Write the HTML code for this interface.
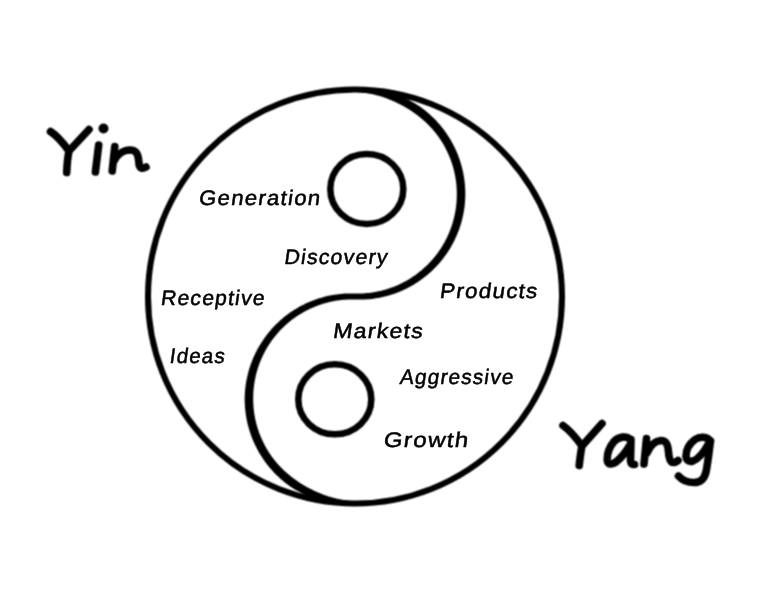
<!DOCTYPE html>
<html><head><meta charset="utf-8">
<style>
html,body{margin:0;padding:0;background:#fff;width:777px;height:600px;overflow:hidden}
svg{display:block}
#w{will-change:transform;width:777px;height:600px}
text{font-family:"Liberation Sans",sans-serif;font-style:normal;font-size:21px;fill:#000;letter-spacing:1.2px;stroke:#000;stroke-width:0.5px}
</style></head><body>
<div id="w"><svg width="777" height="600" viewBox="0 0 777 600">
<defs><filter id="bl" x="0" y="0" width="777" height="600" filterUnits="userSpaceOnUse"><feConvolveMatrix order="3" kernelMatrix="1 2 1 2 4 2 1 2 1" divisor="16" edgeMode="duplicate"/></filter></defs>
<rect width="777" height="600" fill="#fff"/>
<g filter="url(#bl)">
<circle cx="355" cy="296.5" r="207" fill="none" stroke="#000" stroke-width="6"/>
<path d="M362.03,90.50 L364.07,90.43 L366.12,90.40 L368.17,90.41 L370.21,90.47 L372.27,90.56 L374.32,90.70 L376.37,90.88 L378.42,91.11 L380.46,91.37 L382.51,91.69 L384.55,92.04 L386.58,92.44 L388.60,92.89 L390.62,93.38 L392.63,93.92 L394.63,94.50 L396.61,95.12 L398.59,95.80 L400.55,96.51 L402.49,97.27 L404.42,98.08 L406.33,98.93 L408.22,99.82 L410.09,100.76 L411.94,101.74 L413.77,102.76 L415.57,103.83 L417.35,104.94 L419.10,106.09 L420.83,107.28 L422.52,108.51 L424.19,109.78 L425.83,111.09 L427.45,112.43 L429.04,113.80 L430.60,115.20 L432.13,116.63 L433.64,118.09 L435.11,119.58 L436.56,121.10 L437.98,122.64 L439.36,124.22 L440.72,125.82 L442.04,127.44 L443.33,129.10 L444.59,130.78 L445.81,132.48 L447.00,134.20 L448.16,135.95 L449.28,137.72 L450.37,139.52 L451.42,141.33 L452.44,143.17 L453.42,145.02 L454.36,146.89 L455.27,148.79 L456.14,150.69 L456.97,152.62 L457.76,154.56 L458.52,156.52 L459.23,158.49 L459.91,160.47 L460.55,162.47 L461.15,164.48 L461.71,166.50 L462.23,168.53 L462.71,170.57 L463.15,172.62 L463.55,174.68 L463.91,176.75 L464.23,178.82 L464.50,180.90 L464.74,182.98 L464.94,185.07 L465.09,187.16 L465.20,189.26 L465.28,191.35 L465.31,193.45 L465.30,195.55 L465.25,197.65 L465.15,199.74 L465.01,201.83 L464.82,203.92 L464.60,206.01 L464.33,208.08 L464.02,210.16 L463.68,212.22 L463.29,214.28 L462.86,216.34 L462.38,218.38 L461.87,220.41 L461.32,222.43 L460.73,224.44 L460.10,226.44 L459.43,228.42 L458.73,230.39 L457.98,232.35 L457.19,234.29 L456.37,236.21 L455.51,238.12 L454.61,240.01 L453.68,241.88 L452.71,243.73 L451.70,245.57 L450.66,247.38 L449.58,249.17 L448.46,250.94 L447.32,252.69 L446.13,254.41 L444.92,256.11 L443.67,257.79 L442.39,259.44 L441.08,261.06 L439.73,262.66 L438.36,264.23 L436.95,265.78 L435.51,267.29 L434.05,268.78 L432.56,270.23 L431.03,271.66 L429.48,273.06 L427.91,274.42 L426.30,275.76 L424.68,277.06 L423.02,278.33 L421.34,279.57 L419.64,280.77 L417.92,281.94 L416.17,283.08 L414.40,284.18 L412.61,285.24 L410.80,286.27 L408.97,287.27 L407.12,288.22 L405.25,289.15 L403.37,290.03 L401.47,290.88 L399.55,291.68 L397.62,292.46 L395.67,293.19 L393.71,293.88 L391.74,294.54 L389.75,295.15 L387.76,295.73 L385.75,296.27 L383.73,296.77 L381.70,297.22 L379.67,297.64 L377.63,298.02 L375.58,298.36 L373.52,298.65 L371.46,298.91 L369.40,299.13 L367.33,299.30 L365.26,299.44 L363.19,299.53 L361.12,299.58 L359.04,299.60 L356.97,299.57 L354.90,299.50 L355.10,293.50 L357.06,293.53 L359.01,293.52 L360.96,293.47 L362.92,293.39 L364.87,293.26 L366.81,293.10 L368.75,292.90 L370.69,292.66 L372.62,292.38 L374.55,292.07 L376.47,291.72 L378.38,291.33 L380.28,290.90 L382.18,290.44 L384.06,289.94 L385.94,289.40 L387.80,288.83 L389.65,288.21 L391.49,287.57 L393.31,286.89 L395.12,286.17 L396.92,285.42 L398.70,284.63 L400.46,283.80 L402.21,282.95 L403.94,282.06 L405.65,281.13 L407.34,280.18 L409.02,279.19 L410.67,278.16 L412.30,277.11 L413.92,276.02 L415.51,274.90 L417.07,273.75 L418.62,272.58 L420.14,271.37 L421.64,270.13 L423.11,268.86 L424.55,267.57 L425.97,266.24 L427.37,264.89 L428.74,263.52 L430.07,262.11 L431.39,260.68 L432.67,259.23 L433.92,257.75 L435.15,256.25 L436.34,254.72 L437.51,253.17 L438.64,251.60 L439.75,250.01 L440.82,248.39 L441.86,246.76 L442.86,245.10 L443.84,243.43 L444.78,241.74 L445.69,240.03 L446.56,238.30 L447.40,236.56 L448.21,234.80 L448.98,233.02 L449.71,231.23 L450.41,229.43 L451.08,227.61 L451.71,225.79 L452.30,223.95 L452.86,222.09 L453.38,220.23 L453.86,218.36 L454.31,216.48 L454.72,214.59 L455.10,212.70 L455.43,210.80 L455.73,208.89 L455.99,206.98 L456.22,205.06 L456.41,203.14 L456.56,201.21 L456.67,199.28 L456.75,197.35 L456.80,195.43 L456.81,193.50 L456.78,191.56 L456.71,189.64 L456.61,187.71 L456.47,185.78 L456.29,183.86 L456.07,181.94 L455.81,180.03 L455.52,178.12 L455.19,176.22 L454.82,174.33 L454.42,172.44 L453.97,170.56 L453.50,168.69 L452.98,166.83 L452.43,164.98 L451.84,163.14 L451.22,161.31 L450.56,159.50 L449.86,157.70 L449.13,155.91 L448.37,154.14 L447.57,152.38 L446.73,150.64 L445.86,148.92 L444.96,147.21 L444.03,145.52 L443.06,143.85 L442.06,142.20 L441.02,140.57 L439.96,138.96 L438.86,137.37 L437.74,135.81 L436.58,134.26 L435.39,132.74 L434.17,131.24 L432.93,129.77 L431.65,128.32 L430.35,126.90 L429.02,125.50 L427.66,124.13 L426.27,122.78 L424.86,121.47 L423.42,120.18 L421.96,118.92 L420.48,117.69 L418.97,116.48 L417.43,115.31 L415.88,114.16 L414.32,113.03 L412.73,111.93 L411.13,110.85 L409.51,109.79 L407.87,108.77 L406.21,107.76 L404.54,106.79 L402.85,105.83 L401.15,104.91 L399.43,104.01 L397.69,103.14 L395.93,102.30 L394.16,101.48 L392.38,100.70 L390.58,99.94 L388.76,99.22 L386.93,98.52 L385.08,97.85 L383.22,97.22 L381.35,96.62 L379.46,96.05 L377.57,95.51 L375.65,95.01 L373.73,94.54 L371.79,94.11 L369.85,93.71 L367.89,93.35 L365.92,93.03 L363.95,92.75 L361.97,92.50 Z M355.10,293.50 L353.03,293.44 L350.96,293.43 L348.88,293.45 L346.81,293.51 L344.74,293.61 L342.67,293.75 L340.61,293.94 L338.54,294.16 L336.49,294.42 L334.43,294.72 L332.39,295.07 L330.35,295.45 L328.32,295.87 L326.29,296.33 L324.28,296.84 L322.28,297.38 L320.28,297.96 L318.30,298.58 L316.33,299.24 L314.37,299.93 L312.43,300.67 L310.50,301.44 L308.59,302.25 L306.69,303.10 L304.81,303.98 L302.95,304.90 L301.10,305.86 L299.27,306.86 L297.47,307.89 L295.68,308.95 L293.91,310.05 L292.17,311.19 L290.45,312.36 L288.75,313.56 L287.08,314.80 L285.42,316.06 L283.80,317.36 L282.20,318.70 L280.62,320.06 L279.08,321.46 L277.56,322.88 L276.07,324.34 L274.60,325.82 L273.17,327.33 L271.76,328.87 L270.39,330.44 L269.05,332.04 L267.73,333.66 L266.45,335.31 L265.21,336.98 L263.99,338.67 L262.81,340.39 L261.66,342.14 L260.55,343.90 L259.47,345.69 L258.42,347.50 L257.41,349.33 L256.44,351.18 L255.51,353.05 L254.61,354.93 L253.74,356.84 L252.92,358.76 L252.13,360.69 L251.38,362.65 L250.67,364.61 L250.00,366.59 L249.36,368.59 L248.77,370.59 L248.21,372.61 L247.69,374.64 L247.22,376.68 L246.78,378.73 L246.39,380.79 L246.03,382.85 L245.72,384.92 L245.44,387.00 L245.21,389.08 L245.02,391.17 L244.86,393.26 L244.75,395.35 L244.70,397.45 L244.69,399.55 L244.72,401.65 L244.80,403.74 L244.91,405.84 L245.06,407.93 L245.26,410.02 L245.50,412.10 L245.77,414.18 L246.09,416.25 L246.45,418.32 L246.85,420.38 L247.29,422.43 L247.77,424.47 L248.29,426.50 L248.85,428.52 L249.45,430.53 L250.09,432.53 L250.77,434.51 L251.48,436.48 L252.24,438.44 L253.03,440.38 L253.86,442.31 L254.73,444.21 L255.64,446.11 L256.58,447.98 L257.56,449.83 L258.58,451.67 L259.63,453.48 L260.72,455.28 L261.84,457.05 L263.00,458.80 L264.19,460.52 L265.41,462.22 L266.67,463.90 L267.96,465.56 L269.28,467.18 L270.64,468.78 L272.02,470.36 L273.44,471.90 L274.89,473.42 L276.36,474.91 L277.87,476.37 L279.40,477.80 L280.96,479.20 L282.55,480.57 L284.17,481.91 L285.81,483.22 L287.48,484.49 L289.17,485.72 L290.90,486.91 L292.65,488.06 L294.43,489.17 L296.23,490.24 L298.06,491.26 L299.91,492.24 L301.78,493.18 L303.67,494.07 L305.58,494.92 L307.51,495.73 L309.45,496.49 L311.41,497.20 L313.39,497.88 L315.37,498.50 L317.37,499.08 L319.38,499.62 L321.40,500.11 L323.42,500.56 L325.45,500.96 L327.49,501.31 L329.54,501.63 L331.58,501.89 L333.63,502.12 L335.68,502.30 L337.73,502.44 L339.79,502.53 L341.83,502.59 L343.88,502.60 L345.93,502.57 L347.97,502.50 L348.03,500.50 L346.05,500.25 L344.08,499.97 L342.11,499.65 L340.15,499.29 L338.21,498.89 L336.27,498.46 L334.35,497.99 L332.43,497.49 L330.54,496.95 L328.65,496.38 L326.78,495.78 L324.92,495.15 L323.07,494.48 L321.24,493.78 L319.42,493.06 L317.62,492.30 L315.84,491.52 L314.07,490.70 L312.31,489.86 L310.57,488.99 L308.85,488.09 L307.15,487.17 L305.46,486.21 L303.79,485.24 L302.13,484.23 L300.49,483.21 L298.87,482.15 L297.27,481.07 L295.68,479.97 L294.12,478.84 L292.57,477.69 L291.03,476.52 L289.52,475.31 L288.04,474.08 L286.58,472.82 L285.14,471.53 L283.73,470.22 L282.34,468.87 L280.98,467.50 L279.65,466.10 L278.35,464.68 L277.07,463.23 L275.83,461.76 L274.61,460.26 L273.42,458.74 L272.26,457.19 L271.14,455.63 L270.04,454.04 L268.98,452.43 L267.94,450.80 L266.94,449.15 L265.97,447.48 L265.04,445.79 L264.14,444.08 L263.27,442.36 L262.43,440.62 L261.63,438.86 L260.87,437.09 L260.14,435.30 L259.44,433.50 L258.78,431.69 L258.16,429.86 L257.57,428.02 L257.02,426.17 L256.50,424.31 L256.03,422.44 L255.58,420.56 L255.18,418.67 L254.81,416.78 L254.48,414.88 L254.19,412.97 L253.93,411.06 L253.71,409.14 L253.53,407.22 L253.39,405.29 L253.29,403.36 L253.22,401.44 L253.19,399.50 L253.20,397.57 L253.25,395.65 L253.31,393.72 L253.42,391.79 L253.56,389.86 L253.74,387.94 L253.96,386.02 L254.21,384.10 L254.51,382.19 L254.84,380.29 L255.20,378.39 L255.61,376.50 L256.05,374.62 L256.53,372.74 L257.05,370.88 L257.60,369.02 L258.19,367.18 L258.82,365.35 L259.48,363.53 L260.18,361.72 L260.91,359.93 L261.68,358.15 L262.48,356.39 L263.32,354.64 L264.19,352.91 L265.10,351.19 L266.04,349.50 L267.01,347.82 L268.02,346.16 L269.06,344.52 L270.13,342.91 L271.23,341.31 L272.37,339.73 L273.53,338.18 L274.73,336.65 L275.95,335.15 L277.21,333.66 L278.49,332.21 L279.81,330.78 L281.15,329.37 L282.52,327.99 L283.92,326.64 L285.34,325.31 L286.79,324.01 L288.26,322.75 L289.76,321.51 L291.28,320.30 L292.83,319.12 L294.40,317.97 L296.00,316.85 L297.61,315.76 L299.25,314.71 L300.91,313.68 L302.58,312.69 L304.28,311.74 L305.99,310.81 L307.73,309.92 L309.48,309.07 L311.25,308.25 L313.03,307.46 L314.83,306.71 L316.64,305.99 L318.47,305.31 L320.31,304.67 L322.17,304.06 L324.03,303.49 L325.91,302.96 L327.80,302.46 L329.70,302.00 L331.60,301.58 L333.52,301.20 L335.44,300.85 L337.37,300.54 L339.30,300.27 L341.24,300.04 L343.18,299.84 L345.13,299.69 L347.08,299.57 L349.03,299.50 L350.99,299.46 L352.94,299.46 L354.90,299.50 Z" fill="#000"/>
<ellipse cx="366.8" cy="189" rx="36.5" ry="35" fill="none" stroke="#000" stroke-width="6.5"/>
<ellipse cx="334.8" cy="399.3" rx="36.5" ry="35" fill="none" stroke="#000" stroke-width="6.5"/>
<g fill="none" stroke="#000" stroke-width="7.6" stroke-linecap="round" stroke-linejoin="round">
<!-- Yin -->
<path d="M50.5,131.5 C55,134.5 61,140 69,151 M89,129.5 L69,151 C67.5,158 67,165 66.7,172.5"/>
<path d="M98.7,145 L95.4,172"/>
<path d="M114.8,146.5 L112.2,171"/>
<path d="M114,161 C117,155 123,150 130,150 C136,150 138,154 138.6,160 L139.2,165 Q140.5,170 146,167"/>
<!-- Yang -->
<path d="M563,425.5 C568,429 574,435 582,446 M602,423.5 L582,446 C580.5,453 579.8,460 579.2,465.5"/>
<path d="M630.5,439.5 C626,435.5 619,436.5 614,441.5 C609,447.5 607,454.5 607.2,460 C607.6,465 611.5,465 616,462 C621,458 626,452 630,445 M631,439.5 L630.5,461 Q631,465 634.5,464.5"/>
<path d="M646.5,438.5 L644,464 M647,453 C650,446 655,441 661,440.5 C666,440.5 668,444 668.5,452 C669,458 670,462.5 673,462.5 C675,462.5 677,461.5 678,460.5"/>
<path d="M710.5,441 C707,436.5 700,436 695,439.5 C689,444 686,450 686,456 C686.5,461 689.5,462 693,461 C699,459 704,452 709,443 M710.5,441 C709,452 708,462 706,472 C704,480 700,482.5 694,482.5 C688,482.5 682,480 678.5,476"/>
</g>
<circle cx="103.5" cy="128.5" r="5" fill="#000"/>
</g>
<g>
<text transform="translate(199.5,205.0) skewX(-8)" x="-1.2" y="0" textLength="122.4" lengthAdjust="spacingAndGlyphs">Generation</text>
<text transform="translate(285.0,264.3) skewX(-8)" x="-1.2" y="0" textLength="103.9" lengthAdjust="spacingAndGlyphs">Discovery</text>
<text transform="translate(161.4,305.1) skewX(-8)" x="-1.2" y="0" textLength="104.8" lengthAdjust="spacingAndGlyphs">Receptive</text>
<text transform="translate(170.3,363.3) skewX(-8)" x="-1.2" y="0" textLength="56.0" lengthAdjust="spacingAndGlyphs">Ideas</text>
<text transform="translate(440.5,298.1) skewX(-8)" x="-1.2" y="0" textLength="98.5" lengthAdjust="spacingAndGlyphs">Products</text>
<text transform="translate(333.8,337.6) skewX(-8)" x="-1.2" y="0" textLength="90.6" lengthAdjust="spacingAndGlyphs">Markets</text>
<text transform="translate(400.4,383.7) skewX(-8)" x="-1.2" y="0" textLength="114.5" lengthAdjust="spacingAndGlyphs">Aggressive</text>
<text transform="translate(384.2,447.0) skewX(-8)" x="-1.2" y="0" textLength="85.8" lengthAdjust="spacingAndGlyphs">Growth</text>
</g>
</svg></div>
</body></html>
